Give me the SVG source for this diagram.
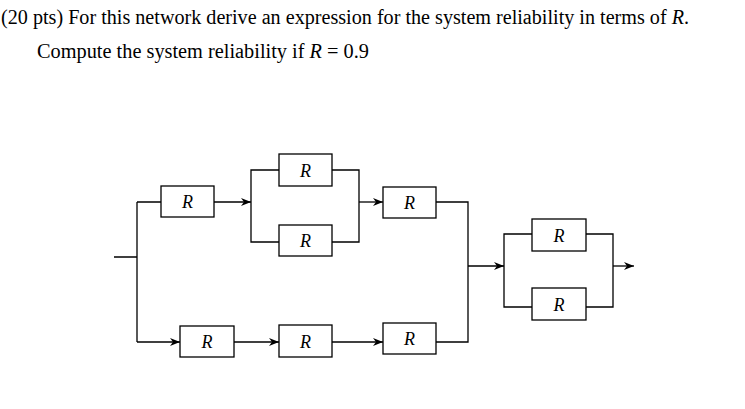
<svg xmlns="http://www.w3.org/2000/svg" width="745" height="409" viewBox="0 0 745 409">
<style>
.t{font-family:"Liberation Serif",serif;font-size:20px;fill:#000}
.b rect{fill:#fff;stroke:#000;stroke-width:1.3}
.b text{font-family:"Liberation Serif",serif;font-style:italic;font-size:18px;text-anchor:middle;fill:#000}
.w{fill:none;stroke:#000;stroke-width:1.3}
</style>
<defs><marker id="a" viewBox="0 0 10 8" refX="10" refY="4" markerWidth="10" markerHeight="8" markerUnits="userSpaceOnUse" orient="auto"><path d="M0,0L10,4L0,8L3,4Z" fill="#000"/></marker></defs>
<rect width="745" height="409" fill="#fff"/>
<text class="t" x="1" y="24" textLength="688" lengthAdjust="spacingAndGlyphs">(20 pts) For this network derive an expression for the system reliability in terms of <tspan font-style="italic">R</tspan>.</text>
<text class="t" x="37" y="58" textLength="332" lengthAdjust="spacingAndGlyphs">Compute the system reliability if <tspan font-style="italic">R</tspan> = 0.9</text>
<g id="connectors" class="w">
<path d="M114,257H137M137,202V342M137,202H161"/>
<path d="M214,202H251" marker-end="url(#a)"/>
<path d="M279,170H251V242H279M332,170H359V242H332"/>
<path d="M359,202H383" marker-end="url(#a)"/>
<path d="M137,342H180" marker-end="url(#a)"/>
<path d="M234,342H279" marker-end="url(#a)"/>
<path d="M332,342H383" marker-end="url(#a)"/>
<path d="M436,202H468V342H436"/>
<path d="M468,266H504" marker-end="url(#a)"/>
<path d="M532,234H504V307H532M586,234H613V307H586"/>
<path d="M613,266H634" marker-end="url(#a)"/>
</g>
<g id="n1" class="b"><rect x="161" y="186" width="53" height="31"/><text x="187.5" y="208">R</text></g>
<g id="n2" class="b"><rect x="279" y="154" width="53" height="32"/><text x="305.5" y="177">R</text></g>
<g id="n3" class="b"><rect x="279" y="225" width="53" height="31"/><text x="305.5" y="247">R</text></g>
<g id="n4" class="b"><rect x="383" y="187" width="53" height="31"/><text x="409.5" y="209">R</text></g>
<g id="n5" class="b"><rect x="180" y="326" width="54" height="31"/><text x="207" y="348">R</text></g>
<g id="n6" class="b"><rect x="279" y="325" width="53" height="32"/><text x="305.5" y="348">R</text></g>
<g id="n7" class="b"><rect x="383" y="323" width="53" height="31"/><text x="409.5" y="345">R</text></g>
<g id="n8" class="b"><rect x="532" y="219" width="54" height="32"/><text x="559" y="242">R</text></g>
<g id="n9" class="b"><rect x="532" y="288" width="54" height="32"/><text x="559" y="311">R</text></g>
</svg>
